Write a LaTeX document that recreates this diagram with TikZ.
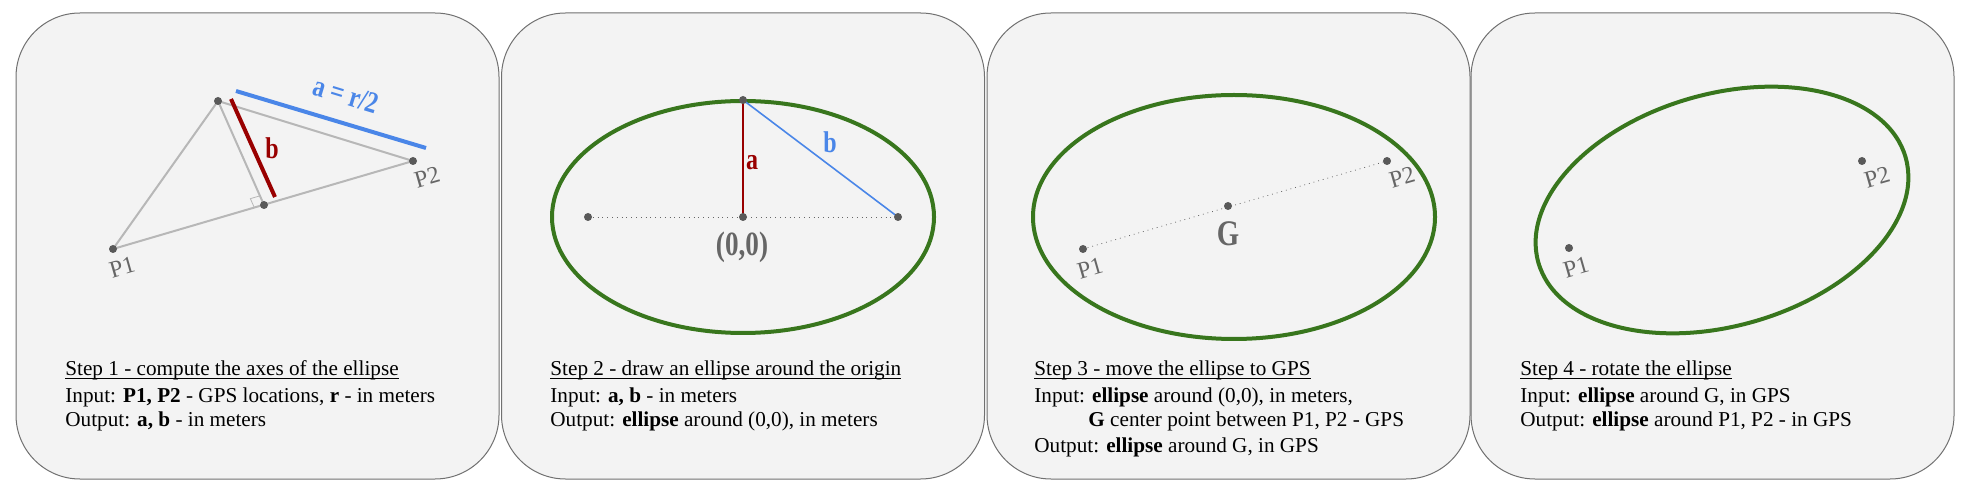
\documentclass[tikz,border=0pt]{standalone}
\usepackage{fontspec}
\setmainfont{Liberation Serif}
\usetikzlibrary{calc}
\definecolor{boxfill}{HTML}{F3F3F3}
\definecolor{boxline}{HTML}{707070}
\definecolor{ptgray}{HTML}{595959}
\definecolor{lblgray}{HTML}{666666}
\definecolor{linegray}{HTML}{B7B7B7}
\definecolor{axisred}{HTML}{990000}
\definecolor{axisblue}{HTML}{4A86E8}
\definecolor{ellgreen}{HTML}{38761D}
% underline close to the baseline
\newcommand\stepline[1]{\setbox0\hbox{#1}\rlap{\rule[-1.6pt]{\wd0}{0.5pt}}\box0}
\newcommand\narrow[1]{\scalebox{0.8}[1]{#1}}
\begin{document}
\begin{tikzpicture}[x=0.5pt, y=-0.5pt,
    panel/.style={draw=boxline, line width=0.5pt, fill=boxfill, rounded corners=32pt,
                  minimum width=241.5pt, minimum height=233pt, inner sep=0pt},
    txt/.style={anchor=base west, inner sep=0pt, font=\fontsize{10.6}{12}\selectfont},
    ptlbl/.style={text=lblgray, font=\fontsize{12}{12}\selectfont, rotate=16, inner sep=0pt},
    biglbl/.style={font=\bfseries\fontsize{13}{13}\selectfont, inner sep=0pt},
    ell/.style={draw=ellgreen, line width=2pt}]
    \useasboundingbox (0,0) rectangle (1964,491);

    % panels
    \foreach \i/\cx in {1/257.5, 2/743, 3/1228.5, 4/1712.5}
        \node[panel] (box\i) at (\cx, 246) {};

    % Step 1: triangle P1, P2 and top point
    \coordinate (t1) at (218,101);
    \coordinate (p11) at (113,249);
    \coordinate (p21) at (413,161);
    \coordinate (f1) at (264,205);
    \draw[linegray, line width=1pt] (p11) -- (t1) -- (p21) -- cycle;
    \draw[linegray, line width=1pt] (t1) -- (f1);
    \coordinate (ra1) at ($(f1)!5pt!(p11)$);
    \coordinate (ra2) at ($(f1)!5pt!(t1)$);
    \draw[linegray, line width=0.4pt] (ra1) -- ($(ra1)+(ra2)-(f1)$) -- (ra2);
    \coordinate (bs1) at (231,99);
    \coordinate (be1) at (275,197);
    \draw[axisred, line width=2pt] (bs1) -- (be1);
    \coordinate (as1) at (236,91);
    \coordinate (ae1) at (426,148);
    \draw[axisblue, line width=2pt] (as1) -- (ae1);
    \foreach \p in {t1, p11, p21, f1}
        \fill[ptgray] (\p) circle (2pt);
    \node[biglbl, text=axisblue, rotate=-17, font=\bfseries\fontsize{15}{15}\selectfont] (alab1) at (346,95) {\narrow{a = r/2}};
    \node[biglbl, text=axisred, font=\bfseries\fontsize{15}{15}\selectfont] (blab1) at (272,148) {\narrow{b}};
    \node[ptlbl] (p1lab1) at (122,267) {P1};
    \node[ptlbl] (p2lab1) at (427,177) {P2};

    \node[txt] (s1a) at (65,376) {\stepline{Step 1 - compute the axes of the ellipse}};
    \node[txt] (s1b) at (65,402) {Input: \textbf{P1, P2} - GPS locations, \textbf{r} - in meters};
    \node[txt] (s1c) at (65,427) {Output: \textbf{a, b} - in meters};

    % Step 2: ellipse around the origin
    \coordinate (c2) at (743,217);
    \coordinate (top2) at (743,100);
    \coordinate (fl2) at (588,217);
    \coordinate (fr2) at (898,217);
    \draw[ell] (c2) ellipse [x radius=191, y radius=116];
    \draw[lblgray, dotted, line width=0.4pt] (fl2) -- (fr2);
    \draw[axisred, line width=0.8pt] (top2) -- (c2);
    \draw[axisblue, line width=0.8pt] (top2) -- (fr2);
    \foreach \p in {c2, top2, fl2, fr2}
        \fill[ptgray] (\p) circle (2pt);
    \node[biglbl, text=axisred, font=\bfseries\fontsize{15}{15}\selectfont] (alab2) at (752,163) {\narrow{a}};
    \node[biglbl, text=axisblue, font=\bfseries\fontsize{15}{15}\selectfont] (blab2) at (830,142) {\narrow{b}};
    \node[biglbl, text=lblgray, font=\bfseries\fontsize{17}{17}\selectfont] (olab2) at (742,247) {\narrow{(0,0)}};

    \node[txt] (s2a) at (550,376) {\stepline{Step 2 - draw an ellipse around the origin}};
    \node[txt] (s2b) at (550,402) {Input: \textbf{a, b} - in meters};
    \node[txt] (s2c) at (550,427) {Output: \textbf{ellipse} around (0,0), in meters};

    % Step 3: move to G
    \coordinate (c3) at (1234,217);
    \coordinate (g3) at (1228,206);
    \coordinate (p13) at (1083,249);
    \coordinate (p23) at (1387,161);
    \draw[ell] (c3) ellipse [x radius=201, y radius=122];
    \draw[lblgray, dotted, line width=0.4pt] (p13) -- (p23);
    \foreach \p in {g3, p13, p23}
        \fill[ptgray] (\p) circle (2pt);
    \node[biglbl, text=lblgray, font=\bfseries\fontsize{18}{18}\selectfont] (glab3) at (1228,234) {\narrow{G}};
    \node[ptlbl] (p1lab3) at (1090,268) {P1};
    \node[ptlbl] (p2lab3) at (1402,177) {P2};

    \node[txt] (s3a) at (1034,376) {\stepline{Step 3 - move the ellipse to GPS}};
    \node[txt] (s3b) at (1034,402) {Input: \textbf{ellipse} around (0,0), in meters,};
    \node[txt] (s3c) at (1088,427) {\textbf{G} center point between P1, P2 - GPS};
    \node[txt] (s3d) at (1034,452) {Output: \textbf{ellipse} around G, in GPS};

    % Step 4: rotate
    \coordinate (c4) at (1722,210);
    \coordinate (p14) at (1569,248);
    \coordinate (p24) at (1862,161);
    \draw[ell, rotate around={16:(c4)}] (c4) ellipse [x radius=191, y radius=116];
    \foreach \p in {p14, p24}
        \fill[ptgray] (\p) circle (2pt);
    \node[ptlbl] (p1lab4) at (1576,267) {P1};
    \node[ptlbl] (p2lab4) at (1877,177) {P2};

    \node[txt] (s4a) at (1520,376) {\stepline{Step 4 - rotate the ellipse}};
    \node[txt] (s4b) at (1520,402) {Input: \textbf{ellipse} around G, in GPS};
    \node[txt] (s4c) at (1520,427) {Output: \textbf{ellipse} around P1, P2 - in GPS};
\end{tikzpicture}
\end{document}
